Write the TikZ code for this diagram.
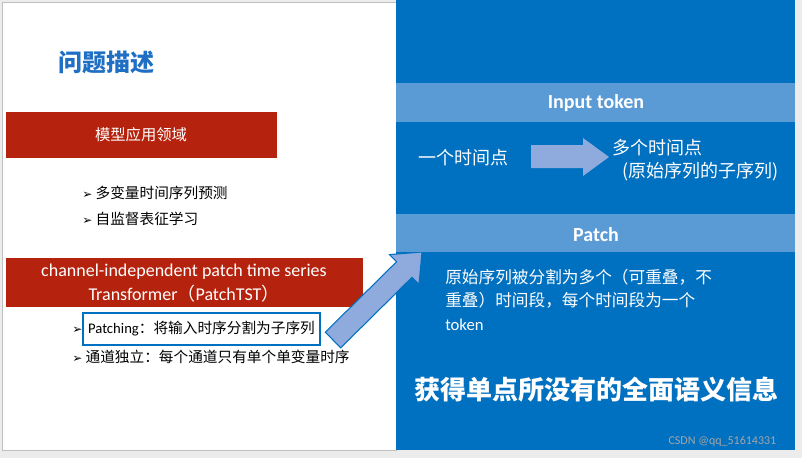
\documentclass[tikz,border=0pt]{standalone}
\usepackage{fontspec}
\setmainfont{Carlito}
\newfontfamily\cjk{Noto Sans CJK SC}
\newfontfamily\dv{DejaVu Sans}
\definecolor{rblue}{HTML}{0070C0}
\definecolor{lband}{HTML}{5B9BD5}
\definecolor{tred}{HTML}{B5230E}
\definecolor{ttl}{HTML}{1F6FC5}
\definecolor{arr}{HTML}{8FAADC}
\tikzset{x=0.75pt,y=-0.75pt,
 redbar/.style={fill=tred,draw=none},
 band/.style={fill=lband,draw=none},
 bandtxt/.style={text=white,font=\fontsize{15}{18}\selectfont\bfseries},
 bul/.style={anchor=west,font=\fontsize{11}{13}\selectfont\cjk,inner sep=0},
 wt/.style={text=white,anchor=west,inner sep=0,font=\fontsize{13.5}{17}\selectfont\cjk}}
\begin{document}
\begin{tikzpicture}
\useasboundingbox (0,0) rectangle (802,458);
\fill[gray!15] (0,0) rectangle (802,458);
\fill[white,draw=gray!50] (2,2) rectangle (396,450);
\fill[rblue] (396,0) rectangle (795,450);
\node[anchor=west,text=ttl,font=\fontsize{18}{20}\selectfont\cjk\bfseries] (title) at (54,62) {问题描述};
\fill[redbar] (6,112) rectangle (277,158);
\node[text=white,font=\fontsize{11.5}{14}\selectfont\cjk] (r1) at (141,135) {模型应用领域};
\node[bul] (b1) at (82,193) {{\dv\small ➢}\ 多变量时间序列预测};
\node[bul] (b2) at (82,219) {{\dv\small ➢}\ 自监督表征学习};
\fill[redbar] (6,258) rectangle (363,307);
\node[text=white,align=center,font=\fontsize{13.5}{18}\selectfont] (r2) at (184,283) {channel-independent patch time series\\Transformer{\cjk（}PatchTST{\cjk）}};
\node[bul] (b3) at (72,330) {{\dv\small ➢}};
\node[draw=rblue,line width=1.2pt,anchor=west,minimum height=24pt,minimum width=178pt,inner sep=2pt,font=\fontsize{11}{13}\selectfont] (pbox) at (82,329) {Patching{\cjk：将输入时序分割为子序列}};
\node[bul] (b4) at (72,357) {{\dv\small ➢}\ 通道独立：每个通道只有单个单变量时序};
\filldraw[fill=arr,draw=rblue,line width=0.8pt] (325.3,332.2)--(396.6,261.7)--(389.6,254.6)--(422,252)--(419,284.4)--(412,277.3)--(340.7,347.8)--cycle;
\fill[band] (396,83) rectangle (795,122);
\node[bandtxt] (h1) at (596,103) {Input token};
\node[wt] (t1) at (418,158) {一个时间点};
\fill[arr] (531,145)--(583,145)--(583,138)--(609,157)--(583,176)--(583,168)--(531,168)--cycle;
\node[wt] (t2) at (612,148) {多个时间点};
\node[wt] (t3) at (622,172) {(原始序列的子序列)};
\fill[band] (396,214) rectangle (795,252);
\node[bandtxt] (h2) at (596,235) {Patch};
\node[wt,align=left,anchor=north west,font=\fontsize{12.5}{17.5}\selectfont\cjk] (para) at (445,269) {原始序列被分割为多个（可重叠，不\\重叠）时间段，每个时间段为一个\\{\fontspec{Carlito}token}};
\node[text=white,font=\fontsize{19.5}{24}\selectfont\cjk\bfseries] (big) at (596,390) {获得单点所没有的全面语义信息};
\node[text=gray!70,anchor=east,font=\fontsize{9}{10}\selectfont] (csdn) at (781,441) {CSDN @qq\_51614331};
\end{tikzpicture}
\end{document}
